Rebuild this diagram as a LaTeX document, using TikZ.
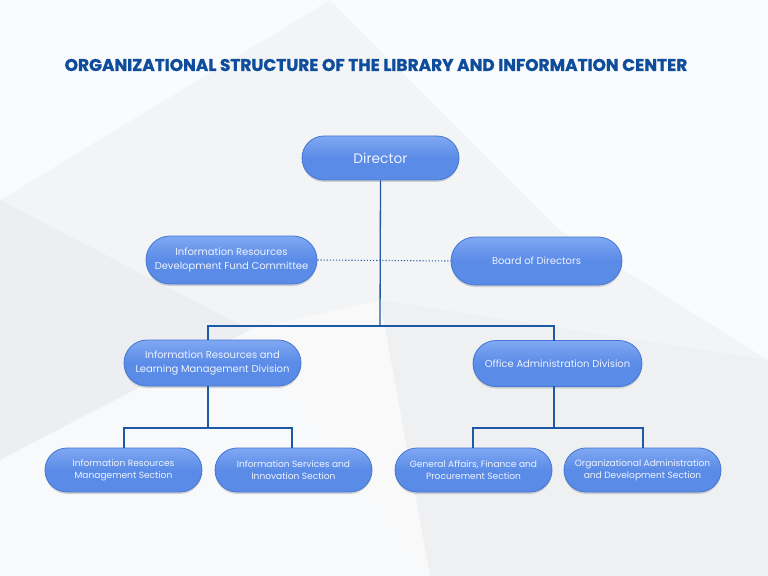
\documentclass[tikz,border=0pt]{standalone}
\usepackage{fontspec}
\setmainfont{Poppins}
\usetikzlibrary{shadows}
\definecolor{bgc}{HTML}{F3F4F6}
\definecolor{facetA}{HTML}{FAFBFC}
\definecolor{facetB}{HTML}{E8EAED}
\definecolor{titlec}{HTML}{0E4C9C}
\definecolor{linec}{HTML}{1C5AA8}
\definecolor{boxfill}{HTML}{5A8BE7}
\definecolor{boxtop}{HTML}{80A8F3}
\definecolor{boxedge}{HTML}{4576D2}
\definecolor{boxtext}{HTML}{EEF3FF}
\tikzset{
  unit/.style={rectangle, rounded corners=#1, draw=boxedge, line width=0.8bp,
    top color=boxtop, bottom color=boxfill, middle color=boxfill,
    text=boxtext, align=center, inner sep=2bp,
    drop shadow={shadow xshift=0bp, shadow yshift=-2bp, fill=black, opacity=0.15}},
  unit/.default=22bp,
  link/.style={draw=linec, line width=1.3bp},
  dotlink/.style={draw=linec, line width=1.1bp, dotted},
}
\begin{document}
\begin{tikzpicture}[x=1bp,y=-1bp]
\useasboundingbox (0,0) rectangle (768,576);
% background
\fill[bgc] (0,0) rectangle (768,576);
\fill[facetA] (0,0) -- (330,0) -- (0,200) -- cycle;
\fill[facetA] (330,0) -- (768,0) -- (768,110) -- (560,230) -- cycle;
\fill[facetB,opacity=0.5] (0,200) -- (250,330) -- (0,460) -- cycle;
\fill[facetA] (560,230) -- (768,110) -- (768,360) -- cycle;
\fill[facetB,opacity=0.4] (380,300) -- (768,360) -- (768,576) -- (430,576) -- cycle;
\fill[facetA,opacity=0.8] (0,460) -- (250,330) -- (430,576) -- (0,576) -- cycle;
\fill[white,opacity=0.5] (250,330) -- (380,300) -- (430,576) -- cycle;
% title
\node[font=\bfseries\fontsize{17}{20}\selectfont\addfontfeature{FakeBold=1.2}, text=titlec] (title) at (376,65) {ORGANIZATIONAL STRUCTURE OF THE LIBRARY AND INFORMATION CENTER};
% nodes
\node[unit, minimum width=157bp, minimum height=44bp, font=\fontsize{13.8}{16}\selectfont] (dir) at (380.5,158) {Director};
\node[unit=24bp, minimum width=171bp, minimum height=48bp, font=\fontsize{10}{14}\selectfont] (fund) at (231.5,260) {Information Resources\\Development Fund Committee};
\node[unit=24bp, minimum width=171bp, minimum height=48bp, font=\fontsize{10}{14}\selectfont] (board) at (536.5,261) {Board of Directors};
\node[unit=23bp, minimum width=177bp, minimum height=46bp, font=\fontsize{10}{14}\selectfont] (irl) at (212.5,363) {Information Resources and\\Learning Management Division};
\node[unit=23bp, minimum width=169bp, minimum height=46bp, font=\fontsize{10}{14}\selectfont] (oad) at (557.5,363.5) {Office Administration Division};
\node[unit, minimum width=157bp, minimum height=44bp, font=\fontsize{9.1}{12.5}\selectfont] (irm) at (123.5,470) {Information Resources\\Management Section};
\node[unit, minimum width=157bp, minimum height=44bp, font=\fontsize{9.1}{12.5}\selectfont] (isi) at (293.5,470) {Information Services and\\Innovation Section};
\node[unit, minimum width=157bp, minimum height=44bp, font=\fontsize{9.1}{12.5}\selectfont] (gaf) at (473.5,470) {General Affairs, Finance and\\Procurement Section};
\node[unit, minimum width=157bp, minimum height=44bp, font=\fontsize{9.1}{12.5}\selectfont] (oads) at (642.5,470) {Organizational Administration\\and Development Section};
% connectors
\coordinate (j0) at (380,326);
\coordinate (j1) at (208,428);
\coordinate (j2) at (554,428);
\draw[dotlink] (fund.east) -- (board.west);
\draw[link] (dir.south) -- (j0);
\draw[link] (j0) -- (208,326) -- (208,340);
\draw[link] (j0) -- (554,326) -- (554,341);
\draw[link] (208,386) -- (j1);
\draw[link] (j1) -- (124,428) -- (124,448);
\draw[link] (j1) -- (292,428) -- (292,448);
\draw[link] (554,386) -- (j2);
\draw[link] (j2) -- (473,428) -- (473,448);
\draw[link] (j2) -- (643,428) -- (643,448);
\end{tikzpicture}
\end{document}
